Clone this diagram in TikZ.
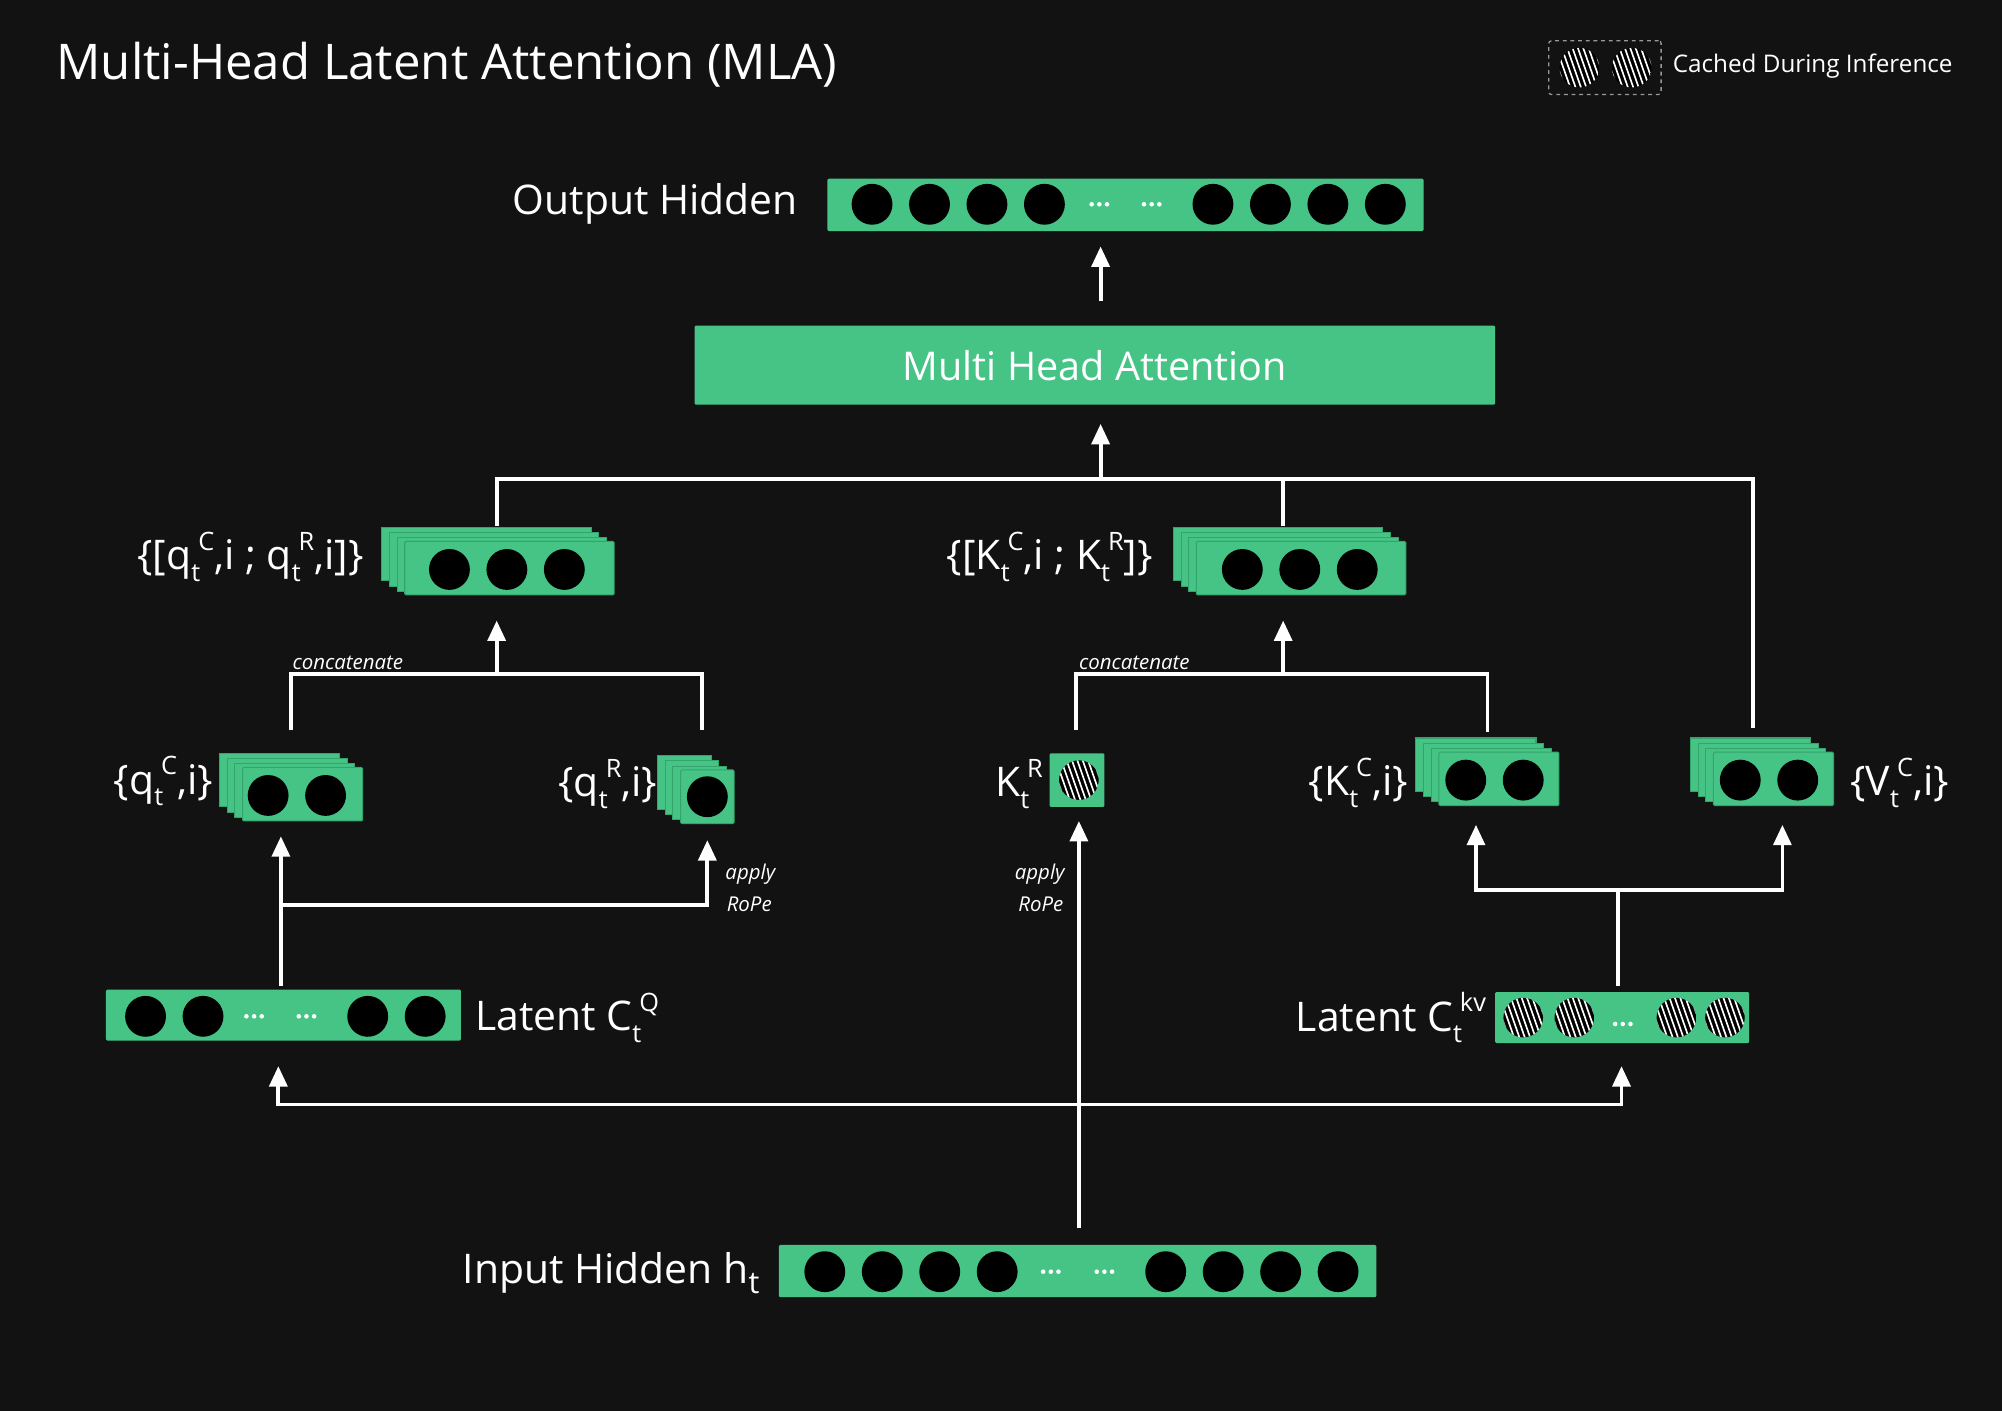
\documentclass[tikz,border=0pt]{standalone}
\usepackage{fontspec}
\setmainfont{Open Sans}
\usetikzlibrary{arrows.meta,calc}
\definecolor{bg}{HTML}{121212}
\definecolor{gr}{HTML}{45C486}
\definecolor{grd}{HTML}{34A36C}
\newcommand\su[2]{\raisebox{-0.28em}{\scalebox{.62}{#1}}\kern-0.05em\raisebox{0.48em}{\scalebox{.62}{#2}}}
\newcommand\dotc[2]{\fill[black] (#1,#2) circle (16);}
\newcommand\hatchc[2]{\begin{scope}\clip (#1,#2) circle (15.5);\fill[black] (#1,#2) circle (16);
 \foreach \k in {-7,...,7}{\draw[white,line width=1.3pt] ($(#1,#2)+(\k*4.2-7,-20)$) -- ++(14,40);}\end{scope}}
\newcommand\elli[2]{\foreach \d in {-6,0,6}{\fill[white] (#1+\d,#2) circle (1.8);}}
\newcommand\stackbox[5]{% name, x, y, w, h
 \foreach \dx/\dy in {0/0,6/4,12/8}{\fill[gr,draw=grd,line width=0.8pt] (#2+\dx,#3+\dy) rectangle ++(#4,#5);}
 \node[box,draw=grd,line width=0.8pt,minimum width=#4,minimum height=#5,anchor=north west] (#1) at (#2+18,#3+11) {};}
\tikzset{box/.style={fill=gr,inner sep=0,outer sep=0,rounded corners=1pt},
 ln/.style={white,line width=3pt},
 ar/.style={ln,-{Triangle[width=14pt,length=16pt]}},
 lab/.style={white,font=\fontsize{32}{36}\selectfont,inner sep=0},
 sm/.style={white,font=\fontsize{16}{19}\selectfont\itshape,inner sep=0}}
\begin{document}
\begin{tikzpicture}[x=1pt,y=-1pt]
\fill[bg] (0,0) rectangle (1568,1105);
\useasboundingbox (0,0) rectangle (1568,1105);
\node[white,anchor=west,font=\fontsize{38.5}{42}\selectfont,inner sep=0] (title) at (44,51) {Multi-Head Latent Attention (MLA)};
% legend
\node[draw=gray!80,dashed,line width=1pt,rounded corners=2pt,minimum width=88,minimum height=42,inner sep=0] (leg) at (1257,53) {};
\hatchc{1237}{53}\hatchc{1278}{53}
\node[white,anchor=west,font=\fontsize{19}{22}\selectfont,inner sep=0] (legt) at (1310,52) {Cached During Inference};
% output hidden
\node[box,minimum width=467,minimum height=41,anchor=north west] (out) at (648,140) {};
\foreach \x in {683,728,773,818,950,995,1040,1085}{\dotc{\x}{160}}
\elli{861}{160}\elli{902}{160}
\node[lab,anchor=east] (outl) at (625,160) {Output Hidden};
% MHA
\node[box,minimum width=627,minimum height=62,anchor=north west,font=\fontsize{31}{34}\selectfont,text=white] (mha) at (544,255) {Multi Head Attention};
\coordinate (mhat) at (862,236);
\coordinate (mhab) at (862,375);
\draw[ar] (mhat) -- (862,193);
\draw[ar] (mhab) -- (862,332);
% concat boxes
\stackbox{qcat}{299}{413}{164}{42}
\foreach \x in {352,397,442}{\dotc{\x}{446}}
\node[lab,anchor=east] (qcatl) at (285,436) {\{[q\su{t}{C},i ; q\su{t}{R},i]\}};
\stackbox{kcat}{919}{413}{164}{42}
\foreach \x in {973,1018,1063}{\dotc{\x}{446}}
\node[lab,anchor=east] (kcatl) at (903,436) {\{[K\su{t}{C},i ; K\su{t}{R}]\}};
% level 3 boxes
\stackbox{qc}{172}{590}{94}{42}
\foreach \x in {210,255}{\dotc{\x}{623}}
\node[lab,anchor=east] (qcl) at (167,612) {\{q\su{t}{C},i\}};
\stackbox{qr}{515}{592}{42}{42}
\dotc{554}{624}
\node[lab,anchor=east] (qrl) at (515,614) {\{q\su{t}{R},i\}};
\node[box,minimum width=43,minimum height=42,anchor=north west] (kr) at (822,590) {};
\hatchc{845}{611}
\node[lab,anchor=east] (krl) at (817,614) {K\su{t}{R}};
\stackbox{kc}{1109}{578}{94}{42}
\foreach \x in {1148,1193}{\dotc{\x}{611}}
\node[lab,anchor=east] (kcl) at (1103,613) {\{K\su{t}{C},i\}};
\stackbox{vc}{1324}{578}{94}{42}
\foreach \x in {1363,1408}{\dotc{\x}{611}}
\node[lab,anchor=west] (vcl) at (1449,613) {\{V\su{t}{C},i\}};
% top bus
\draw[ln] (389,412) -- (389,375) -- (1373,375) -- (1373,570);
\draw[ln] (1005,375) -- (1005,412);
% concat brackets
\coordinate (cq) at (389,528); \coordinate (ck) at (1005,528);
\draw[ar] (cq) -- (389,486);
\draw[ar] (ck) -- (1005,486);
\draw[ln] (228,572) -- (228,528) -- (550,528) -- (550,572);
\draw[ln] (843,572) -- (843,528) -- (1165,528) -- (1165,573);
\node[sm,anchor=south west] (cc1) at (229,525) {concatenate};
\node[sm,anchor=south west] (cc2) at (845,525) {concatenate};
% latent q
\node[box,minimum width=278,minimum height=40,anchor=north west] (lq) at (83,775) {};
\foreach \x in {114,159,288,333}{\dotc{\x}{796}}
\elli{199}{796}\elli{240}{796}
\node[lab,anchor=west] (lql) at (372,797) {Latent C\su{t}{Q}};
\draw[ar] (220,772) -- (220,655);
\draw[ar] (220,709) -- (554,709) -- (554,658);
\node[sm,anchor=west] (ar1) at (568,685) {apply};
\node[sm,anchor=west] (ar2) at (569,708) {RoPe};
% latent kv
\node[box,minimum width=199,minimum height=40,anchor=north west] (lkv) at (1171,777) {};
\foreach \x in {1193,1233,1313,1351}{\hatchc{\x}{797}}
\elli{1271}{802}
\node[lab,anchor=east] (lkvl) at (1164,797) {Latent C\su{t}{kv}};
\draw[ln] (1267,772) -- (1267,697);
\draw[ar] (1156,697.5) -- (1156,646);
\draw[ln] (1154.5,697) -- (1397.5,697);
\draw[ar] (1396,697.5) -- (1396,646);
% input
\node[box,minimum width=468,minimum height=41,anchor=north west] (inp) at (610,975) {};
\foreach \x in {646,691,736,781,913,958,1003,1048}{\dotc{\x}{996}}
\elli{823}{996}\elli{865}{996}
\node[lab,anchor=east] (inpl) at (595,997) {Input Hidden h\raisebox{-0.25em}{\scalebox{.75}{t}}};
\draw[ar] (845,962) -- (845,643);
\node[sm,anchor=east] (ar3) at (834,685) {apply};
\node[sm,anchor=east] (ar4) at (833,708) {RoPe};
\draw[ar] (218,866.5) -- (218,835);
\draw[ln] (216.5,865) -- (1271.5,865);
\draw[ar] (1270,866.5) -- (1270,835);
\end{tikzpicture}
\end{document}
